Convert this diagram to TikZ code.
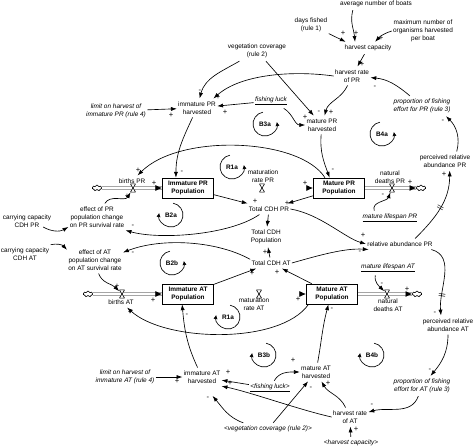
\documentclass[tikz,border=0pt]{standalone}
\usepackage{fontspec}
\setmainfont{Liberation Sans}
\usetikzlibrary{arrows.meta, shapes.symbols}

\begin{document}
\begin{tikzpicture}[x=0.03cm, y=-0.03cm]
\tikzstyle{var}=[font=\fontsize{5.5}{6.8}\selectfont, align=center, inner xsep=1pt, inner ysep=2.5pt]
\tikzstyle{ivar}=[var, font=\fontsize{5.5}{6.8}\selectfont\itshape]
\tikzstyle{stock}=[draw, line width=0.6pt, font=\fontsize{5.5}{6.8}\selectfont\bfseries, align=center, minimum width=44pt, minimum height=17pt, inner sep=0]
\tikzstyle{lnk}=[-{Latex[length=5pt,width=3.5pt]}, line width=0.55pt]
\tikzstyle{pipe}=[double=white, double distance=1.4pt, line width=0.5pt]
\tikzstyle{tip}=[-{Latex[length=5.5pt,width=5pt]}, line width=0.5pt]
\tikzstyle{sink}=[cloud, cloud puffs=7, cloud ignores aspect, draw, inner sep=0, minimum width=8pt, minimum height=5pt, line width=0.5pt]
\tikzstyle{valve}=[inner sep=0, minimum width=4.5pt, minimum height=7pt, path picture={\filldraw[fill=white, line width=.5pt] (path picture bounding box.north west) -- (path picture bounding box.north east) -- (path picture bounding box.south west) -- (path picture bounding box.south east) -- cycle;}]
\tikzstyle{lp}=[font=\fontsize{5.5}{6}\selectfont\bfseries, inner sep=0]
\tikzstyle{lparr}=[-{Latex[length=3.5pt,width=3.5pt]}, line width=0.55pt]
\tikzstyle{pm}=[font=\fontsize{6.5}{6.5}\selectfont, inner sep=0]
\tikzstyle{dly}=[sloped, inner sep=0, font=\fontsize{6}{6}\selectfont]
\useasboundingbox (0,0) rectangle (474,448);

% harvest of PR
\node[var] (avg_boats) at (376,4) {average number of boats};
\node[var] (days_fished) at (311,25) {days fished\\(rule 1)};
\node[var] (max_org) at (423,31) {maximum number of\\organisms harvested\\per boat};
\node[var] (harv_cap) at (368,48) {harvest capacity};
\node[var] (veg_cov) at (257,51) {vegetation coverage\\(rule 2)};
\node[var] (harv_PR) at (352,76) {harvest rate\\of PR};
\node[ivar] (lim_PR) at (116,111) {limit on harvest of\\immature PR (rule 4)};
\node[var] (imm_PR_h) at (197,108) {immature PR\\harvested};
\node[ivar] (luck_PR) at (271,101) {\underline{fishing luck}};
\node[ivar] (prop_PR) at (422,106) {proportion of fishing\\effort for PR (rule 3)};
\node[var] (mat_PR_h) at (322,125) {mature PR\\harvested};
\node[var] (perc_PR) at (445,161) {perceived relative\\abundance PR};

% PR stocks
\node[var] (births_PR) at (132,181) {births PR};
\node[stock] (Imm_PR) at (188,188) {Immature PR\\Population};
\node[var] (matur_PR) at (263,176) {maturation\\rate PR};
\node[stock] (Mat_PR) at (339,188) {Mature PR\\Population};
\node[var] (deaths_PR) at (390,177) {natural\\deaths PR};
\node[sink] (cl_1) at (97,188) {};
\node[sink] (cl_2) at (421,188) {};

% carrying capacity and totals
\node[var] (cc_PR) at (27,221) {carrying capacity\\CDH PR};
\node[var] (eff_PR) at (97,217) {effect of PR\\population change\\on PR survival rate};
\node[var] (tot_PR) at (269,209) {Total CDH PR};
\node[ivar] (life_PR) at (390,218) {\underline{mature lifespan PR}};
\node[var] (tot_pop) at (266,237) {Total CDH\\Population};
\node[var] (rel_PR) at (400,244) {relative abundance PR};
\node[var] (cc_AT) at (25,254) {carrying capacity\\CDH AT};
\node[var] (eff_AT) at (95,260) {effect of AT\\population change\\on AT survival rate};
\node[var] (tot_AT) at (271,263) {Total CDH AT};
\node[ivar] (life_AT) at (388,268) {\underline{mature lifespan AT}};

% AT stocks
\node[var] (births_AT) at (121,302) {births AT};
\node[stock] (Imm_AT) at (188,294) {Immature AT\\Population};
\node[var] (matur_AT) at (254,304) {maturation\\rate AT};
\node[stock] (Mat_AT) at (332,294) {Mature AT\\Population};
\node[var] (deaths_AT) at (388,305) {natural\\deaths AT};
\node[sink] (cl_3) at (88,294) {};
\node[sink] (cl_4) at (417,294) {};

% harvest of AT
\node[var] (perc_AT) at (448,325) {perceived relative\\abundance AT};
\node[var] (mat_AT_h) at (316,372) {mature AT\\harvested};
\node[ivar] (lim_AT) at (125,377) {limit on harvest of\\immature AT (rule 4)};
\node[var] (imm_AT_h) at (202,377) {immature AT\\harvested};
\node[ivar] (luck_AT) at (270,388) {\underline{<fishing luck>}};
\node[ivar] (prop_AT) at (422,386) {proportion of fishing\\effort for AT (rule 3)};
\node[var] (harv_AT) at (350,417) {harvest rate\\of AT};
\node[ivar] (veg_AT) at (268,429) {<vegetation coverage (rule 2)>};
\node[ivar] (cap_AT) at (351,443) {<harvest capacity>};

% loops
\node[lp] (L_B3a) at (265,124) {B3a};
\node[lp] (L_B4a) at (382,134) {B4a};
\node[lp] (L_R1a) at (232,167) {R1a};
\node[lp] (L_B2a) at (171,215) {B2a};
\node[lp] (L_B2b) at (172,263) {B2b};
\node[lp] (L_R1b) at (228,317) {R1a};
\node[lp] (L_B3b) at (264,355) {B3b};
\node[lp] (L_B4b) at (372,355) {B4b};
\draw[lparr] (L_B3a.center) ++(100:0.36cm) arc[start angle=100, end angle=370, radius=0.36cm];
\draw[lparr] (L_B4a.center) ++(100:0.36cm) arc[start angle=100, end angle=370, radius=0.36cm];
\draw[lparr] (L_R1a.center) ++(100:0.36cm) arc[start angle=100, end angle=370, radius=0.36cm];
\draw[lparr] (L_B2b.center) ++(100:0.36cm) arc[start angle=100, end angle=370, radius=0.36cm];
\draw[lparr] (L_B2a.center) ++(80:0.36cm) arc[start angle=80, end angle=-190, radius=0.36cm];
\draw[lparr] (L_R1b.center) ++(80:0.36cm) arc[start angle=80, end angle=-190, radius=0.36cm];
\draw[lparr] (L_B3b.center) ++(80:0.36cm) arc[start angle=80, end angle=-190, radius=0.36cm];
\draw[lparr] (L_B4b.center) ++(80:0.36cm) arc[start angle=80, end angle=-190, radius=0.36cm];

% flows
\draw[pipe] (cl_1) -- (Imm_PR);
\draw[pipe] (Imm_PR) -- (Mat_PR);
\draw[pipe] (Mat_PR) -- (cl_2);
\draw[pipe] (cl_3) -- (Imm_AT);
\draw[pipe] (Imm_AT) -- (Mat_AT);
\draw[pipe] (Mat_AT) -- (cl_4);
\draw[tip] ([xshift=-2pt]Imm_PR.west) -- (Imm_PR.west);
\draw[tip] ([xshift=-2pt]Mat_PR.west) -- (Mat_PR.west);
\draw[tip] ([xshift=-2pt]cl_2.west) -- (cl_2.west);
\draw[tip] ([xshift=-2pt]Imm_AT.west) -- (Imm_AT.west);
\draw[tip] ([xshift=-2pt]Mat_AT.west) -- (Mat_AT.west);
\draw[tip] ([xshift=-2pt]cl_4.west) -- (cl_4.west);
\node[valve] (v_births_PR) at (133,188) {};
\node[valve] (v_matur_PR) at (262,188) {};
\node[valve] (v_deaths_PR) at (392,188) {};
\node[valve] (v_births_AT) at (122,294) {};
\node[valve] (v_matur_AT) at (259,294) {};
\node[valve] (v_deaths_AT) at (387,294) {};

% links, top
\draw[lnk] ([xshift=12pt]avg_boats.south west) to[out=-105, in=95] ([xshift=10pt]harv_cap.north west);
\draw[lnk] (days_fished) -- ([xshift=2pt]harv_cap.north west);
\draw[lnk] (max_org.west) to[bend right=15] ([xshift=-15pt]harv_cap.north east);
\draw[lnk] (harv_cap) -- (harv_PR);
\draw[lnk] (harv_PR.west) .. controls (290,70) and (240,75) .. (imm_PR_h.30);
\draw[lnk] (harv_PR) to[out=-115, in=75] (mat_PR_h);
\draw[lnk] (veg_cov) to[out=-150, in=75] (imm_PR_h);
\draw[lnk] (veg_cov) -- (mat_PR_h);
\draw[lnk] (luck_PR) -- (imm_PR_h);
\draw[lnk] (luck_PR) to[out=-30, in=180] (mat_PR_h);
\draw[lnk] (lim_PR) -- (imm_PR_h);
\draw[lnk] (prop_PR) to[out=140, in=-5] (harv_PR);
\draw[lnk] ([xshift=10pt]perc_PR.north) to[out=75, in=-45] ([xshift=-5pt]prop_PR.south east);
\draw[lnk] (imm_PR_h) to[out=-115, in=90] ([xshift=12pt]Imm_PR.north west);
\draw[lnk] (mat_PR_h) to[out=-95, in=110] ([xshift=-8pt]Mat_PR.north);

% links, PR stocks
\draw[lnk] ([xshift=-12pt]Mat_PR.north) .. controls (300,138) and (180,133) .. (births_PR);
\draw[lnk] (eff_PR.60) to[out=60, in=-120] (v_births_PR);
\draw[lnk] ([xshift=-8pt,yshift=3pt]cc_PR.south east) to[bend right=30] ([yshift=3pt]eff_PR.south west);
\draw[lnk] (Imm_PR) -- (tot_PR);
\draw[lnk] (Mat_PR) -- (tot_PR);
\draw[lnk] (tot_PR) -- (tot_pop);
\draw[lnk] (tot_PR.-150) .. controls (230,235) and (160,240) .. (eff_PR.-25);
\draw[lnk] (tot_PR.east) .. controls (320,214) and (345,238) .. (rel_PR.west);
\draw[lnk] (life_PR.155) to[out=110, in=-110] (v_deaths_PR);
\draw[lnk] (rel_PR.20) to[out=45, in=-90] node[dly, pos=.5] {||} ([xshift=4pt]perc_PR.south);
\draw[lnk] (rel_PR.-10) to[out=-15, in=95] node[dly, pos=.75] {||} ([xshift=-6pt]perc_AT.north);

% links, AT stocks
\draw[lnk] (tot_AT) -- (tot_pop);
\draw[lnk] (tot_AT.170) .. controls (215,240) and (160,238) .. (eff_AT.15);
\draw[lnk] (tot_AT.east) .. controls (320,255) and (345,248) .. (rel_PR.-170);
\draw[lnk] (Imm_AT) -- (tot_AT);
\draw[lnk] (Mat_AT) -- (tot_AT);
\draw[lnk] (cc_AT.20) to[bend left=30] (eff_AT.160);
\draw[lnk] (eff_AT.-75) to[out=-70, in=135] (v_births_AT);
\draw[lnk] ([xshift=-20pt]Mat_AT.south) .. controls (280,345) and (165,342) .. (births_AT);
\draw[lnk] (life_AT.-150) to[out=-100, in=135] (v_deaths_AT);

% links, bottom
\draw[lnk] (lim_AT) -- (imm_AT_h);
\draw[lnk] (luck_AT) -- (imm_AT_h);
\draw[lnk] (harv_AT.west) .. controls (300,410) and (250,392) .. (imm_AT_h.-25);
\draw[lnk] (veg_AT.166) to[out=160, in=-50] ([shift={(9pt,-8pt)}]imm_AT_h.south);
\draw[lnk] (veg_AT) -- (mat_AT_h);
\draw[lnk] (luck_AT) to[out=60, in=180] (mat_AT_h);
\draw[lnk] (harv_AT) to[out=115, in=-60] (mat_AT_h);
\draw[lnk] (cap_AT) -- (harv_AT);
\draw[lnk] (prop_AT) to[out=-110, in=15] (harv_AT);
\draw[lnk] (perc_AT) to[out=-90, in=50] (prop_AT);
\draw[lnk] (imm_AT_h) to[out=115, in=-85] ([xshift=-5pt]Imm_AT.south);
\draw[lnk] (mat_AT_h) to[out=80, in=-105] ([xshift=-3pt]Mat_AT.south);

% polarities
\foreach \x/\y/\s [count=\i] in {343/33/+, 356/33/+, 381/38/+, 362/64/+,
  200/91/-, 218/97/+, 225/112/+, 171/115/+, 319/112/-, 305/117/+, 331/112/+,
  375/87/-, 443/121/-, 182/172/-, 333/170/-, 138/170/+, 154/183/+, 305/183/+,
  410/182/+, 127/196/+, 255/201/+, 287/203/+, 383/195/-, 444/174/+,
  133/226/-, 268/222/+, 363/235/+, 360/252/-, 265/252/+, 133/253/-,
  252/273/+, 277/272/+, 117/286/+, 382/284/-, 153/300/+, 298/299/+,
  407/289/+, 130/312/+, 187/315/-, 332/309/-, 435/313/-, 430/370/-,
  293/360/+, 228/372/+, 230/383/+, 177/381/+, 208/398/-, 311/388/-,
  328/383/+, 372/405/-, 356/429/+}
  \node[pm] (sg\i) at (\x,\y) {\s};
\end{tikzpicture}
\end{document}
